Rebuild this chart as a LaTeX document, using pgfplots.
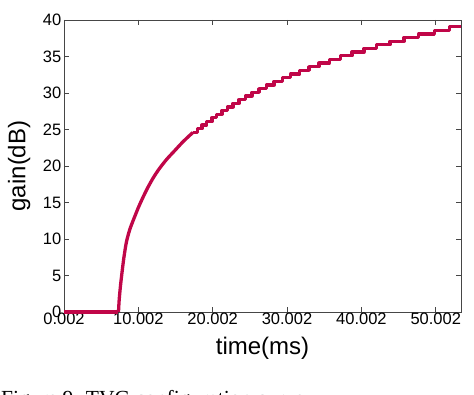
\documentclass[border=0pt]{standalone}
\usepackage{pgfplots}
\pgfplotsset{compat=1.18}
\usepackage{fontspec}
\setmainfont{Liberation Sans}
\newfontfamily\capfont{Liberation Serif}
\definecolor{curve}{RGB}{192,6,72}
\definecolor{axgray}{RGB}{70,70,70}
\begin{document}
\begin{tikzpicture}[x=1pt,y=1pt]
\useasboundingbox (0,0) rectangle (474,395);
\begin{axis}[
  at={(64pt,83pt)}, anchor=south west,
  scale only axis, width=397pt, height=292pt,
  xmin=0.002, xmax=53.4, ymin=0, ymax=40,
  xtick={0.002,10.002,20.002,30.002,40.002,50.002},
  xticklabels={0.002,10.002,20.002,30.002,40.002,50.002},
  ytick={0,5,...,40},
  /pgf/number format/assume math mode=true,
  axis line style={axgray, line width=0.8pt},
  tick style={axgray, line width=0.8pt},
  major tick length=5pt,
  tick align=inside,
  ticklabel style={font=\fontsize{16.5}{18}\selectfont},
  xticklabel style={inner sep=1pt},
  yticklabel style={inner sep=2.5pt},
  label style={font=\fontsize{24}{26}\selectfont},
  xlabel={time(ms)},
  ylabel={gain(dB)},
  xlabel style={at={(axis description cs:0.5,-0.124)}, anchor=center},
  ylabel style={at={(axis description cs:-0.113,0.5)}, anchor=center, rotate=0},
  clip=false,
]
\addplot[curve, line width=3.3pt, line join=round] coordinates {
  (0.002,0) (7.33,0)
};
\addplot[curve, line width=3.3pt, line join=round, smooth, tension=0.45] coordinates {
  (7.33,0) (7.42,1.6) (7.58,3.4) (7.78,5.2) (8.05,7.4) (8.40,9.6)
  (8.85,11.3) (9.33,12.6) (10.0,14.3) (10.67,15.8) (11.3,17.1) (12.02,18.4)
  (12.8,19.6) (13.8,20.9) (14.8,22.0) (15.8,23.1) (16.6,23.9) (17.35,24.6)
};
\addplot[curve, line width=3.3pt, line join=round, const plot] coordinates {
  (17.35,24.6) (17.92,25.1) (18.55,25.6) (19.2,26.1)
  (19.90,26.6) (20.56,27.1) (21.25,27.6) (21.99,28.1) (22.75,28.6) (23.56,29.1)
  (24.41,29.6) (25.30,30.1) (26.24,30.6) (27.23,31.1) (28.26,31.6) (29.35,32.1)
  (30.50,32.6) (31.71,33.1) (32.97,33.6) (34.30,34.1) (35.70,34.6) (37.17,35.1)
  (38.72,35.6) (40.35,36.1) (42.06,36.6) (43.86,37.1) (45.74,37.6) (47.73,38.1)
  (49.82,38.6) (51.85,39.1) (53.4,39.1)
};
\end{axis}
\begin{scope}
\clip (0,0) rectangle (474,395);
\node[anchor=north west, inner sep=0pt, font=\capfont\fontsize{21.5}{23}\selectfont] at (1,4.5) {Figure 9. TVG configuration curve};
\end{scope}
\end{tikzpicture}
\end{document}
